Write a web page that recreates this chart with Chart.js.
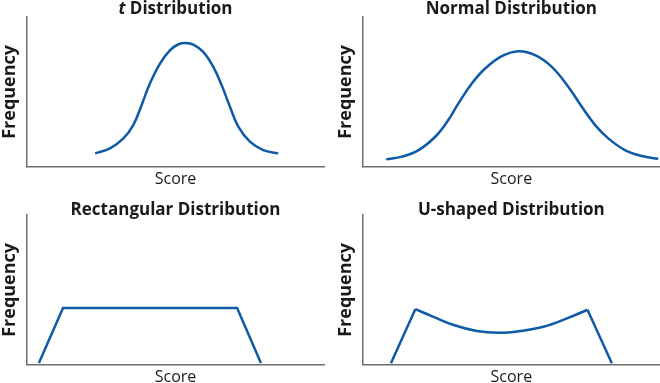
<!DOCTYPE html>
<html>
<head>
<meta charset="utf-8">
<script src="https://cdn.jsdelivr.net/npm/chart.js@4.4.1/dist/chart.umd.min.js"></script>
<style>
  body { margin: 0; background: #fff; width: 660px; height: 383px; overflow: hidden; position: relative; }
  canvas { position: absolute; }
</style>
</head>
<body>
<canvas id="c1" width="330" height="192" style="left:0;top:0"></canvas>
<canvas id="c2" width="324" height="192" style="left:336px;top:0"></canvas>
<canvas id="c3" width="330" height="192" style="left:0;top:198px"></canvas>
<canvas id="c4" width="324" height="192" style="left:336px;top:198px"></canvas>
<script>
// titles and axis labels
const titles = ['t Distribution', 'Normal Distribution', 'Rectangular Distribution', 'U-shaped Distribution'];
const xLabel = 'Score';
const yLabel = 'Frequency';

// t distribution (score 0-100 along the axis, frequency 0-100)
const tScore = [23.0, 28.0, 32.5, 35.8, 38.6, 41.4, 44.8, 48.2, 51.0, 53.5, 56.0, 59.3, 62.7, 65.5, 68.3, 71.1, 75.0, 79.5, 84.5];
const tFreq  = [8.9, 12.3, 18.9, 27.8, 41.1, 55.6, 68.9, 77.8, 81.8, 82.7, 81.6, 76.7, 66.7, 54.5, 40.0, 26.7, 16.7, 11.1, 8.9];

// normal distribution
const normalScore = [7.9, 13.2, 18.8, 24.4, 28.4, 32.2, 36.7, 41.2, 46.8, 52.4, 58.0, 63.6, 69.2, 73.7, 78.2, 82.6, 88.2, 93.9, 99.4];
const normalFreq  = [4.9, 6.7, 11.1, 20.0, 30.0, 42.3, 55.6, 65.6, 73.8, 77.1, 74.5, 66.7, 53.3, 40.0, 27.8, 18.9, 11.1, 7.1, 5.3];

// rectangular distribution
const rectScore = [4.1, 12.2, 70.7, 78.7];
const rectFreq  = [1.2, 37.8, 37.8, 1.2];

// U-shaped distribution (straight sides, curved middle)
const uScore = [9.5, 17.7, 23.8, 30.6, 38.4, 45.7, 53.0, 60.8, 68.7, 75.6, 83.8];
const uFreq  = [0.9, 37.1, 32.0, 26.5, 22.5, 21.3, 22.5, 25.3, 30.9, 36.7, 0.9];

const family = "'Open Sans', 'DejaVu Sans', sans-serif";
const lineColor = '#0d5aa7';
const axisColor = '#6e6e6e';
const textColor = '#1a1a1a';
const titleSize = 17;

const italicT = {
    id: 'italicT',
    afterDraw(chart) {
        const ctx = chart.ctx;
        const area = chart.chartArea;
        const tb = chart.titleBlock;
        const lead = 't';
        const rest = ' Distribution';
        ctx.save();
        ctx.fillStyle = textColor;
        ctx.textBaseline = 'middle';
        ctx.textAlign = 'left';
        const fItal = 'italic bold ' + titleSize + 'px ' + family;
        const fBold = 'bold ' + titleSize + 'px ' + family;
        ctx.font = fItal;
        const w1 = ctx.measureText(lead).width;
        ctx.font = fBold;
        const w2 = ctx.measureText(rest).width;
        const x0 = (area.left + area.right) / 2 - (w1 + w2) / 2;
        const y = tb.top + tb.options.padding.top + titleSize / 2;
        ctx.font = fItal;
        ctx.fillText(lead, x0, y);
        ctx.font = fBold;
        ctx.fillText(rest, x0 + w1, y);
        ctx.restore();
    }
};

function serie(score, freq, tension) {
    return {
        data: score.map((s, i) => ({ x: s, y: freq[i] })),
        borderColor: lineColor,
        borderWidth: 2.5,
        borderJoinStyle: 'miter',
        pointRadius: 0,
        fill: false,
        tension: tension
    };
}

function criarPainel(id, title, datasets, titlePad, padRight, mixed) {
    new Chart(document.getElementById(id), {
        type: 'line',
        data: { datasets: datasets },
        options: {
            responsive: false,
            animation: false,
            devicePixelRatio: 1,
            layout: { padding: { left: 0, right: padRight, top: 0, bottom: 0 } },
            plugins: {
                legend: { display: false },
                tooltip: { enabled: false },
                title: {
                    display: true,
                    text: title,
                    fullSize: false,
                    color: mixed ? 'rgba(0,0,0,0)' : textColor,
                    font: { family: family, size: titleSize, weight: 'bold', lineHeight: 1 },
                    padding: titlePad
                }
            },
            scales: {
                x: {
                    type: 'linear',
                    min: 0,
                    max: 100,
                    grid: { display: false, drawTicks: false },
                    border: { display: true, color: axisColor, width: 1.5 },
                    ticks: { display: false },
                    title: {
                        display: true,
                        text: xLabel,
                        color: textColor,
                        font: { family: family, size: 16, weight: 'normal', lineHeight: 1.2 },
                        padding: { top: 3.5, bottom: 2.6 }
                    }
                },
                y: {
                    min: 0,
                    max: 100,
                    grid: { display: false, drawTicks: false },
                    border: { display: true, color: axisColor, width: 1.5 },
                    ticks: { display: false },
                    title: {
                        display: true,
                        text: yLabel,
                        color: textColor,
                        font: { family: family, size: 18, weight: 'bold', lineHeight: 1 },
                        padding: { top: 0.5, bottom: 8.2 }
                    }
                }
            }
        },
        plugins: mixed ? [italicT] : []
    });
}

criarPainel('c1', titles[0], [serie(tScore, tFreq, 0.4)], { top: 0.7, bottom: -0.7 }, 5.7, true);
criarPainel('c2', titles[1], [serie(normalScore, normalFreq, 0.4)], { top: 0.7, bottom: -0.7 }, 0, false);
criarPainel('c3', titles[2], [serie(rectScore, rectFreq, 0)], { top: 3.8, bottom: -3.8 }, 5.7, false);
const n = uScore.length;
criarPainel('c4', titles[3], [
    serie(uScore.slice(0, 2), uFreq.slice(0, 2), 0),
    serie(uScore.slice(1, n - 1), uFreq.slice(1, n - 1), 0.4),
    serie(uScore.slice(n - 2), uFreq.slice(n - 2), 0)
], { top: 3.8, bottom: -3.8 }, 0, false);
</script>
</body>
</html>
